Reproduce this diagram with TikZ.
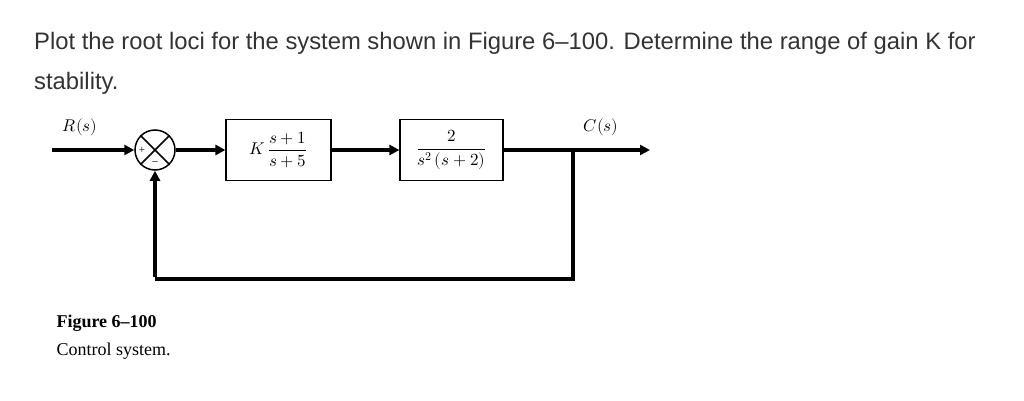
\documentclass[tikz,border=0pt]{standalone}
\usepackage{fontspec}
\usepackage{unicode-math}
\setmainfont{Liberation Serif}
\setmathfont{Latin Modern Math}
\newfontfamily\sansf{Liberation Sans}
\usetikzlibrary{arrows.meta}
\begin{document}
\begin{tikzpicture}[x=1pt,y=-1pt,
  blk/.style={draw,line width=1.2pt,minimum width=105pt,minimum height=61pt,inner sep=0pt},
  sig/.style={line width=4.5pt,-{Triangle[length=10pt,width=10pt]}},
  ln/.style={line width=4.5pt}]
\useasboundingbox (0,0) rectangle (1024,401);
\node[anchor=west,text=black!80,font=\sansf\fontsize{23.8}{24}\selectfont,inner sep=0pt] (t1) at (34,43) {Plot the root loci for the system shown in Figure 6–100. Determine the range of gain K for};
\node[anchor=west,text=black!80,font=\sansf\fontsize{23.8}{24}\selectfont,inner sep=0pt] (t2) at (34,83) {stability.};
\node[draw,circle,line width=1.5pt,minimum size=40pt,inner sep=0pt] (s) at (155,150) {};
\draw[line width=1.5pt] (s.45)--(s.225) (s.135)--(s.-45);
\node[font=\fontsize{11}{11}\selectfont] (p) at (142,150) {+};
\node[font=\fontsize{11}{11}\selectfont] (m) at (155,163) {–};
\node[blk] (b1) at (278.5,150) {\fontsize{17}{17}\selectfont$\displaystyle K\,\frac{s+1}{s+5}$};
\node[blk,minimum width=103pt] (b2) at (451.5,150) {\fontsize{17}{17}\selectfont$\displaystyle\frac{2}{s^2\,(s+2)}$};
\coordinate (in) at (52,150);
\coordinate (out) at (650,150);
\coordinate (br) at (573,150);
\coordinate (c1) at (573,279);
\coordinate (c2) at (155,279);
\draw[sig] (in) -- (s.west);
\draw[sig] (s.east) -- (b1.west);
\draw[sig] (b1.east) -- (b2.west);
\draw[sig] (b2.east) -- (out);
\draw[ln] (br) -- (c1) -- (c2);
\draw[sig] ([yshift=2.25pt]c2) -- (s.south);
\node[font=\fontsize{17}{17}\selectfont] (r) at (80,127) {$R(s)$};
\node[font=\fontsize{17}{17}\selectfont] (c) at (601,127) {$C(s)$};
\node[anchor=west,font=\bfseries\fontsize{18}{18}\selectfont] (f1) at (53,323) {Figure 6–100};
\node[anchor=west,font=\fontsize{18}{18}\selectfont] (f2) at (53,351) {Control system.};
\end{tikzpicture}
\end{document}
